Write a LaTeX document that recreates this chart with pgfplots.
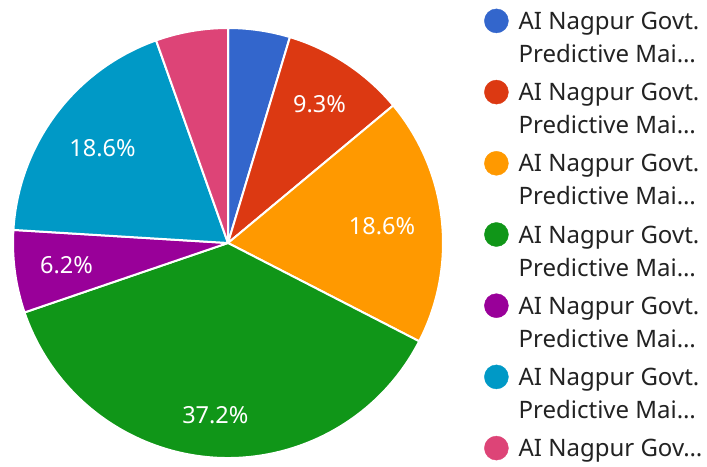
\documentclass[border=0pt]{standalone}
\usepackage{pgfplots}
\pgfplotsset{compat=1.18}
\usepackage{pgfplotstable}
\usepackage{fontspec}
\setmainfont{Noto Sans}
\definecolor{gblue}{HTML}{3366CC}
\definecolor{gred}{HTML}{DC3912}
\definecolor{gorange}{HTML}{FF9900}
\definecolor{ggreen}{HTML}{109618}
\definecolor{gpurple}{HTML}{990099}
\definecolor{gteal}{HTML}{0099C6}
\definecolor{gpink}{HTML}{DD4477}
\definecolor{txt}{HTML}{222222}
\pgfplotstableread{
value color lr
6  gblue   0
12 gred    166
24 gorange 155
48 ggreen  173
8  gpurple 163
24 gteal   157
7  gpink   0
}\piedata
\def\total{129}
\newcommand{\lt}[2]{\parbox[t]{190pt}{#1\\#2}}
\begin{document}
\begin{tikzpicture}
\useasboundingbox (0,0) rectangle (707pt,466pt);
\clip (0,0) rectangle (707pt,466pt);
\begin{axis}[at={(0,0)},anchor=south west,
  width=707pt,height=466pt,scale only axis,hide axis,
  xmin=0,xmax=707,ymin=0,ymax=466,clip=false,
  legend style={at={(axis cs:484,457.5)},anchor=north west,draw=none,fill=none,
    inner sep=0pt,row sep=0pt,column sep=10pt,
    font=\fontsize{24}{33}\selectfont\color{txt},
    nodes={anchor=base west,inner sep=0pt,text height=18pt,text depth=50.5pt}},
]
\xdef\cum{0}
\pgfplotsinvokeforeach{0,...,6}{
  \pgfplotstablegetelem{#1}{value}\of\piedata \edef\pv{\pgfplotsretval}
  \pgfplotstablegetelem{#1}{color}\of\piedata \edef\pc{\pgfplotsretval}
  \pgfplotstablegetelem{#1}{lr}\of\piedata \edef\plr{\pgfplotsretval}
  \pgfmathsetmacro\pa{90-\cum/\total*360}
  \pgfmathsetmacro\pb{90-(\cum+\pv)/\total*360}
  \pgfmathsetmacro\pmid{(\pa+\pb)/2}
  \pgfmathsetmacro\sx{228+215*cos(\pa)}
  \pgfmathsetmacro\sy{223+215*sin(\pa)}
  \pgfmathsetmacro\lx{228+\plr*cos(\pmid)}
  \pgfmathsetmacro\ly{223+\plr*sin(\pmid)}
  \pgfmathtruncatemacro\pint{round(\pv/\total*1000)}
  \pgfmathtruncatemacro\ia{floor(\pint/10)}
  \pgfmathtruncatemacro\ib{\pint-10*\ia}
  \edef\temp{\noexpand\fill[\pc,draw=white,line width=2pt,line join=round]
    (axis cs:228,223) -- (axis cs:\sx,\sy) arc[start angle=\pa,end angle=\pb,radius=215pt] -- cycle;}
  \temp
  \ifnum\pint>60
    \edef\temp{\noexpand\node[text=white,font=\noexpand\fontsize{23.5}{28}\noexpand\selectfont]
      at (axis cs:\lx,\ly) {\ia.\ib\noexpand\%};}
    \temp
  \fi
  \pgfmathsetmacro\cum{\cum+\pv}\xdef\cum{\cum}
}
\addlegendimage{legend image code/.code={\fill[gblue] (12pt,8.5pt) circle[radius=12pt];}}
\addlegendentry{\lt{AI Nagpur Govt.}{Predictive Mai…}}
\addlegendimage{legend image code/.code={\fill[gred] (12pt,8.5pt) circle[radius=12pt];}}
\addlegendentry{\lt{AI Nagpur Govt.}{Predictive Mai…}}
\addlegendimage{legend image code/.code={\fill[gorange] (12pt,8.5pt) circle[radius=12pt];}}
\addlegendentry{\lt{AI Nagpur Govt.}{Predictive Mai…}}
\addlegendimage{legend image code/.code={\fill[ggreen] (12pt,8.5pt) circle[radius=12pt];}}
\addlegendentry{\lt{AI Nagpur Govt.}{Predictive Mai…}}
\addlegendimage{legend image code/.code={\fill[gpurple] (12pt,8.5pt) circle[radius=12pt];}}
\addlegendentry{\lt{AI Nagpur Govt.}{Predictive Mai…}}
\addlegendimage{legend image code/.code={\fill[gteal] (12pt,8.5pt) circle[radius=12pt];}}
\addlegendentry{\lt{AI Nagpur Govt.}{Predictive Mai…}}
\addlegendimage{legend image code/.code={\fill[gpink] (12pt,8.5pt) circle[radius=12pt];}}
\addlegendentry{AI Nagpur Gov…}
\end{axis}
\end{tikzpicture}
\end{document}
